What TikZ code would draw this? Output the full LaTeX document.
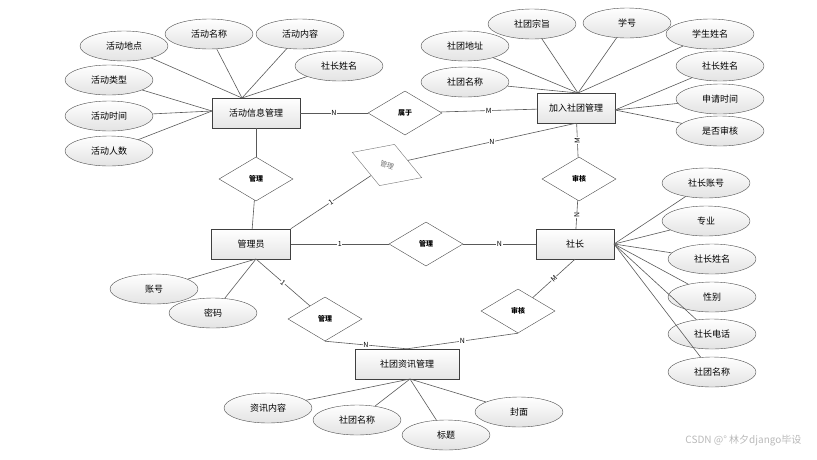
\documentclass[tikz,border=0pt]{standalone}
\usepackage{fontspec}
\setmainfont{Noto Sans CJK SC}
\usetikzlibrary{shapes.geometric}
\tikzset{
  attr/.style={ellipse, draw=black!70, top color=white, bottom color=gray!22, minimum width=88, minimum height=30, inner sep=0pt, font=\fontsize{9}{10}\selectfont},
  ent/.style={rectangle, draw=black!75, top color=white, bottom color=gray!20, minimum height=30, inner sep=0pt, font=\fontsize{9}{10}\selectfont},
  rel/.style={diamond, draw=black!70, fill=white, minimum width=74, minimum height=44, aspect=1.7, inner sep=0pt, font=\fontsize{7}{8}\selectfont\bfseries},
  ln/.style={draw=black!65, line width=0.6pt},
  card/.style={fill=white, inner sep=0.5pt, font=\fontsize{7}{8}\selectfont}
}
\begin{document}
\begin{tikzpicture}[x=1pt,y=-1pt]
\useasboundingbox (0,0) rectangle (817,459);
% entities
\node[ent, minimum width=88] (act) at (256,113) {活动信息管理};
\node[ent, minimum width=78] (join) at (576,108) {加入社团管理};
\node[ent, minimum width=79] (adm) at (251,244) {管理员};
\node[ent, minimum width=78] (pres) at (575,244) {社长};
\node[ent, minimum width=104] (news) at (407,364) {社团资讯管理};
% convergence points
\coordinate (actT) at (242,98);
\coordinate (actL) at (212,111);
\coordinate (joinT) at (578,93);
\coordinate (joinR) at (615,110);
\coordinate (presR) at (614,244);
\coordinate (admB) at (256,259);
\coordinate (newsT) at (410,379);
% attributes
\node[attr] (a1) at (124,46) {活动地点};
\node[attr] (a2) at (209,34) {活动名称};
\node[attr] (a3) at (300,34) {活动内容};
\node[attr] (a4) at (339,66) {社长姓名};
\node[attr] (a5) at (109,80) {活动类型};
\node[attr] (a6) at (109,116) {活动时间};
\node[attr] (a7) at (109,151) {活动人数};
\node[attr] (b1) at (532,24) {社团宗旨};
\node[attr] (b2) at (627,23) {学号};
\node[attr] (b3) at (710,34) {学生姓名};
\node[attr] (b4) at (465,46) {社团地址};
\node[attr] (b5) at (465,82) {社团名称};
\node[attr] (b6) at (720,66) {社长姓名};
\node[attr] (b7) at (720,99) {申请时间};
\node[attr] (b8) at (720,131) {是否审核};
\node[attr] (c1) at (706,183) {社长账号};
\node[attr] (c2) at (706,221) {专业};
\node[attr] (c3) at (712,259) {社长姓名};
\node[attr] (c4) at (712,297) {性别};
\node[attr] (c5) at (712,334) {社长电话};
\node[attr] (c6) at (712,372) {社团名称};
\node[attr] (d1) at (154,289) {账号};
\node[attr] (d2) at (213,313) {密码};
\node[attr] (e1) at (268,408) {资讯内容};
\node[attr] (e2) at (357,420) {社团名称};
\node[attr] (e3) at (446,435) {标题};
\node[attr] (e4) at (519,412) {封面};
% relations
\node[rel] (r1) at (405,113) {属于};
\node[rel] (r2) at (256,179) {管理};
\node[rel, rotate=-20, draw=black!55, text=black!55, font=\fontsize{7}{8}\selectfont] (r3) at (387,165) {管理};
\node[rel] (r4) at (579,179) {审核};
\node[rel] (r5) at (426,244) {管理};
\node[rel] (r6) at (325,319) {管理};
\node[rel] (r7) at (518,311) {审核};
% attribute lines
\foreach \n in {a1,a2,a3,a4} \draw[ln] (\n) -- (actT);
\foreach \n in {a5,a6,a7} \draw[ln] (\n) -- (actL);
\foreach \n in {b1,b2,b3,b4,b5} \draw[ln] (\n) -- (joinT);
\foreach \n in {b6,b7,b8} \draw[ln] (\n) -- (joinR);
\foreach \n in {c1,c2,c3,c4,c5,c6} \draw[ln] (\n) -- (presR);
\foreach \n in {d1,d2} \draw[ln] (\n) -- (admB);
\foreach \n in {e1,e2,e3,e4} \draw[ln] (\n) -- (newsT);
% relation lines
\draw[ln] (act) -- node[card]{N} (r1);
\draw[ln] (r1) -- node[card]{M} (join);
\draw[ln] (act) -- (r2);
\draw[ln] (r2) -- (adm);
\draw[ln] (adm.north east) -- node[card, sloped]{1} (r3);
\draw[ln] (r3) -- node[card]{N} (join.south);
\draw[ln] (join) -- node[card, rotate=90]{M} (r4);
\draw[ln] (r4) -- node[card, rotate=90]{N} (pres);
\draw[ln] (adm) -- node[card]{1} (r5);
\draw[ln] (r5) -- node[card]{N} (pres);
\draw[ln] (admB) -- node[card, sloped]{1} (r6);
\draw[ln] (r6.south) -- node[card]{N} (news.north);
\draw[ln] (pres.south) -- node[card, sloped]{M} (r7);
\draw[ln] (r7.south) -- node[card]{N} (news.north);
% watermark
\node[text=gray!55, font=\fontsize{10}{12}\selectfont, anchor=east] (wm) at (805,441) {CSDN @°\ 林夕django毕设};
\end{tikzpicture}
\end{document}
